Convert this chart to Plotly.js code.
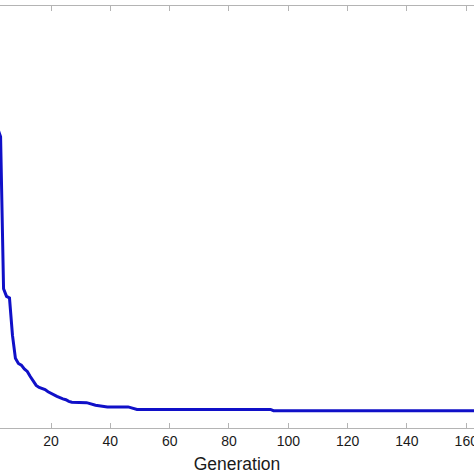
<!DOCTYPE html>
<html>
<head>
<meta charset="utf-8">
<script src="https://cdn.plot.ly/plotly-3.0.1.min.js"></script>
<style>
  html, body { margin: 0; padding: 0; background: #fff; }
  #chart { width: 474px; height: 474px; }
</style>
</head>
<body>
<div id="chart"></div>
<script>
    // best fitness per generation (arbitrary units)
    const generations = [1, 2, 3, 4, 5, 6, 7, 8, 9, 10, 11, 12, 13, 14, 15, 16, 17, 18, 19, 20, 22, 24, 25, 26, 27, 32, 35, 39, 46, 49, 94, 95, 163];
    const fitness = [72, 71, 69, 33, 31.2, 30.8, 22, 16.5, 15.3, 14.9, 14.0, 13.4, 12.2, 11.0, 10.1, 9.6, 9.3, 9.1, 8.6, 8.2, 7.5, 6.9, 6.7, 6.3, 6.1, 6.0, 5.4, 5.0, 5.0, 4.4, 4.4, 4.1, 4.1];
    const xTicks = [20, 40, 60, 80, 100, 120, 140, 160];

    const axisColor = '#b4b4b4';
    const fontFamily = 'Liberation Sans, Arial, sans-serif';

    const trace = {
        x: generations,
        y: fitness,
        type: 'scatter',
        mode: 'lines',
        line: { color: '#1010c8', width: 3 },
        hoverinfo: 'skip'
    };

    const layout = {
        width: 474,
        height: 474,
        paper_bgcolor: '#fff',
        plot_bgcolor: '#fff',
        margin: { l: 0, r: 0, t: 6, b: 46 },
        showlegend: false,
        xaxis: {
            range: [2.8, 162.6],
            tickvals: xTicks,
            ticktext: xTicks.map(String),
            ticks: 'inside',
            ticklen: 5,
            tickcolor: axisColor,
            ticklabeloverflow: 'allow',
            showline: true,
            linecolor: axisColor,
            linewidth: 1,
            mirror: 'ticks',
            showgrid: false,
            zeroline: false,
            tickfont: { size: 14, color: '#1a1a1a', family: fontFamily },
            title: {
                text: 'Generation',
                font: { size: 17.5, color: '#1a1a1a', family: fontFamily },
                standoff: 10
            }
        },
        yaxis: {
            range: [0, 100],
            showticklabels: false,
            ticks: '',
            showline: false,
            showgrid: false,
            zeroline: false
        }
    };

    Plotly.newPlot('chart', [trace], layout, { responsive: false, displayModeBar: false, staticPlot: true });
</script>
</body>
</html>
